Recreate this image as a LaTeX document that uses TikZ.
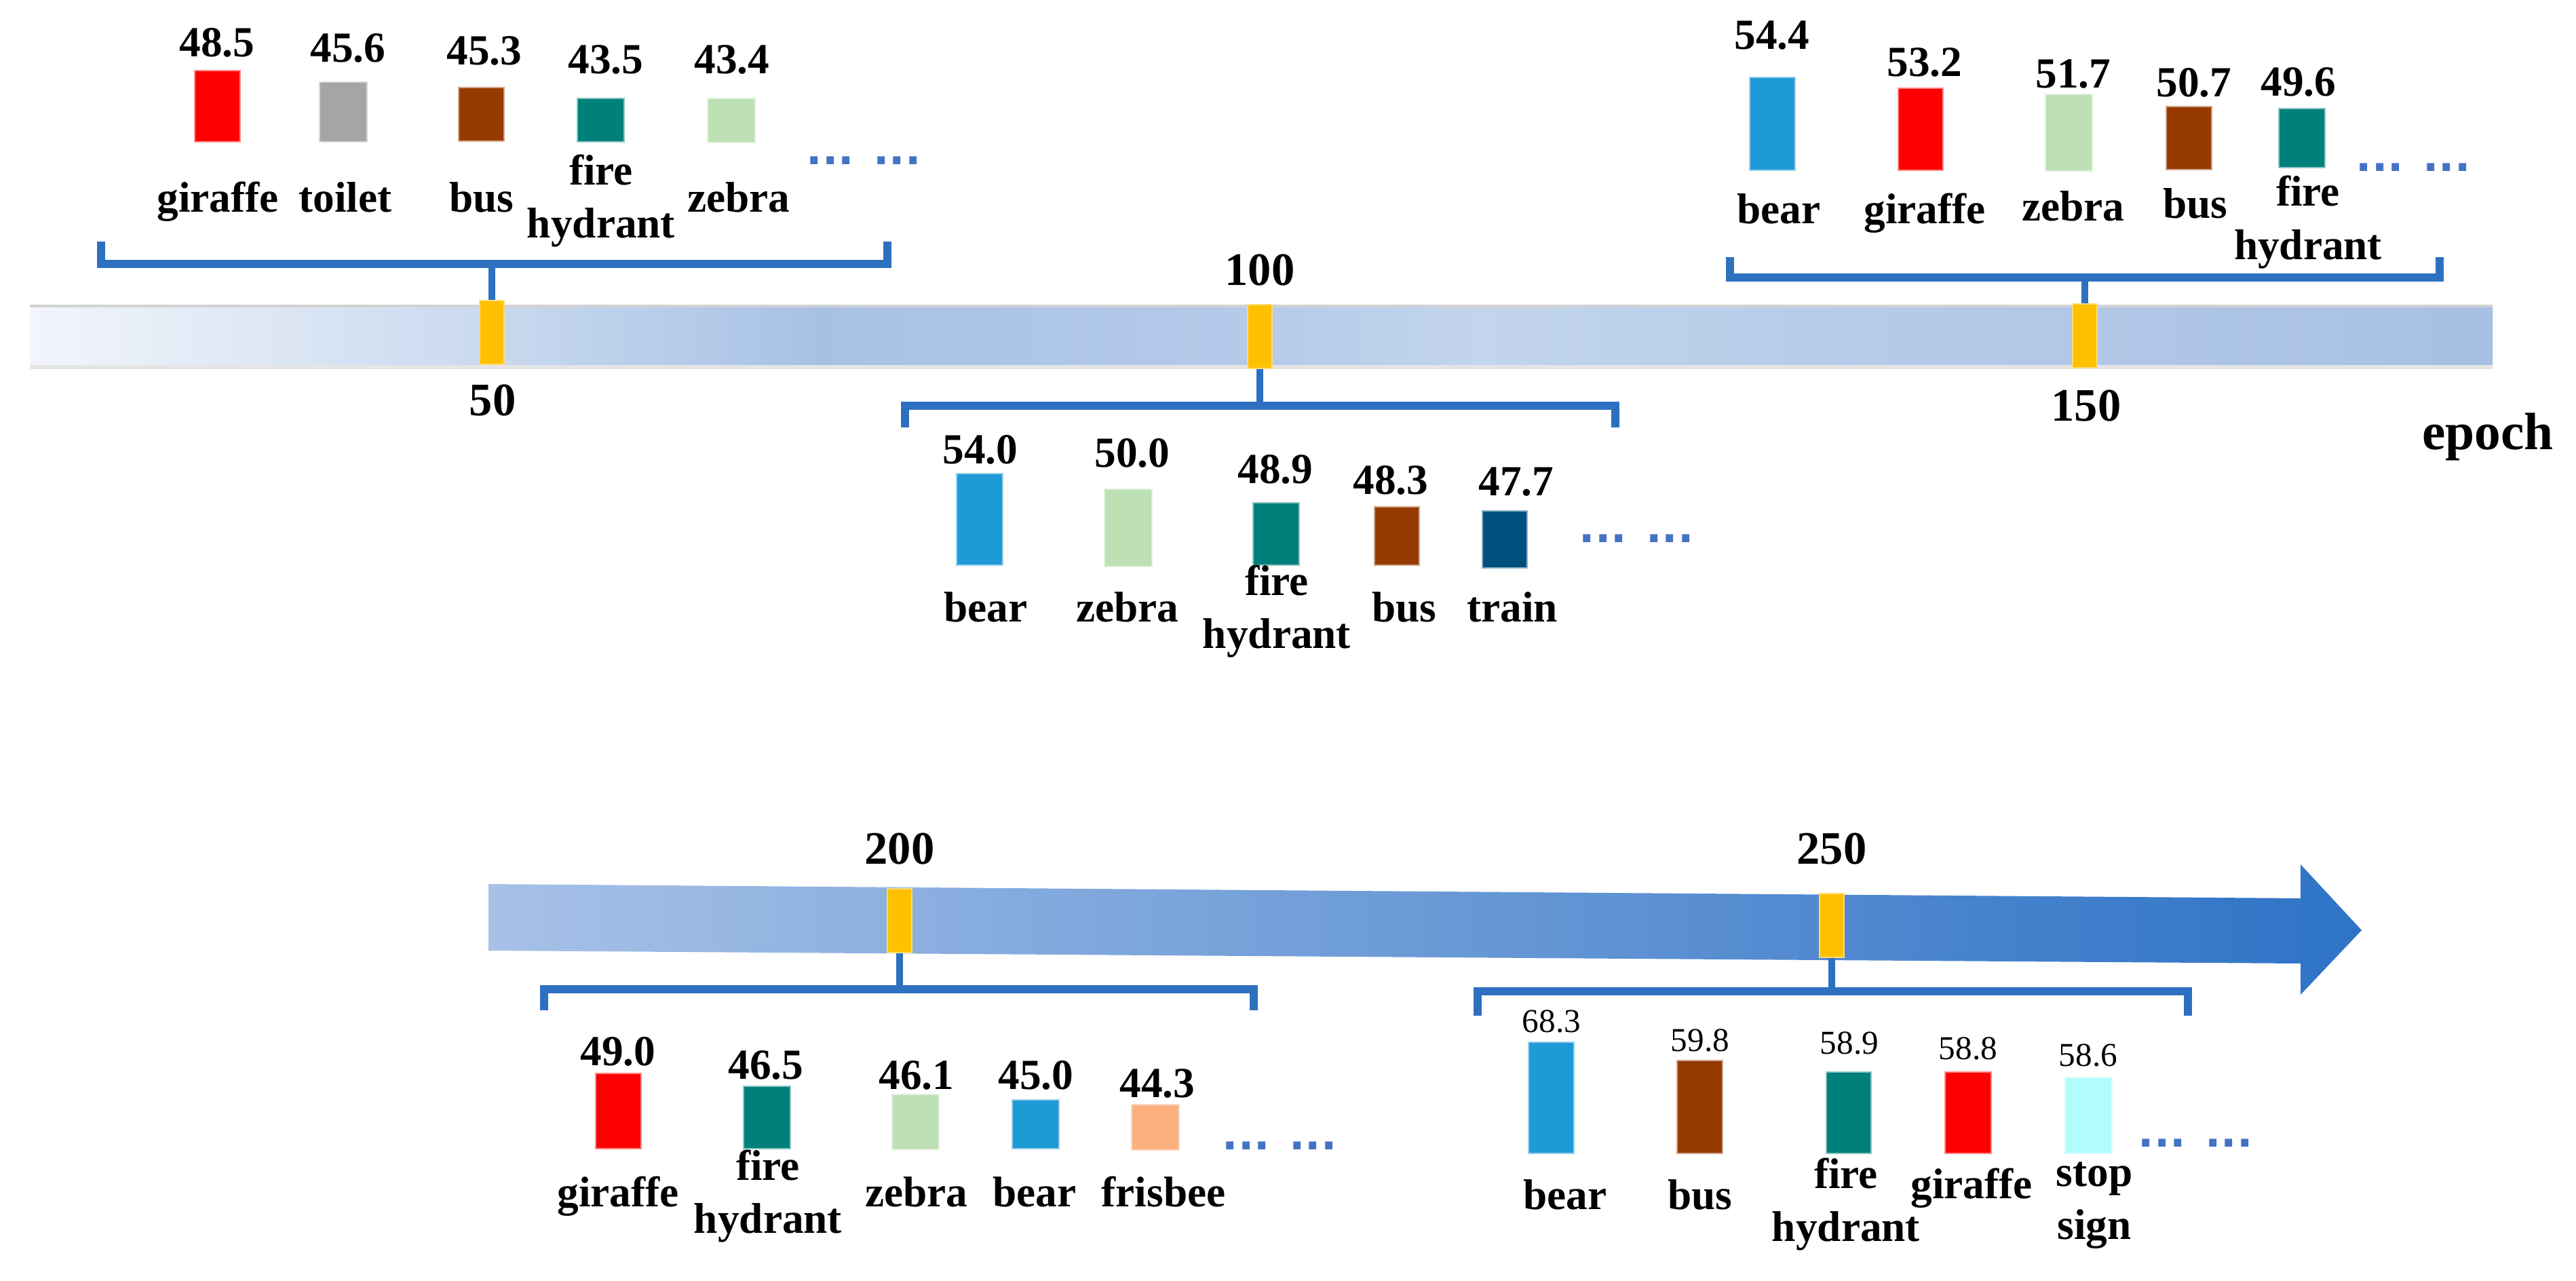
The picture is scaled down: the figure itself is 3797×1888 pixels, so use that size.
\documentclass[tikz,border=0pt]{standalone}
\usepackage{fontspec}
\setmainfont{Liberation Serif}
\newfontfamily\dotfont{DejaVu Sans}
\definecolor{gold}{HTML}{FFC000}
\definecolor{brkblue}{HTML}{2E70C0}
\definecolor{dotblue}{HTML}{4472C4}
\definecolor{cRed}{HTML}{FF0000}
\definecolor{cGray}{HTML}{A5A5A5}
\definecolor{cBrown}{HTML}{963A00}
\definecolor{cTeal}{HTML}{00807A}
\definecolor{cGreen}{HTML}{BDE0B4}
\definecolor{cBlue}{HTML}{1E9BD7}
\definecolor{cNavy}{HTML}{00507F}
\definecolor{cPeach}{HTML}{FBB07E}
\definecolor{cCyan}{HTML}{B3FCFC}
\definecolor{arrL}{HTML}{A7C1E7}
\definecolor{arrR}{HTML}{2E73C6}
\pgfdeclarehorizontalshading{topbar}{100bp}{rgb(0bp)=(0.949,0.961,0.984); rgb(25bp)=(0.949,0.961,0.984); rgb(34.4bp)=(0.788,0.851,0.937); rgb(41bp)=(0.655,0.757,0.898); rgb(49.75bp)=(0.706,0.792,0.914); rgb(54.45bp)=(0.765,0.835,0.929); rgb(61bp)=(0.718,0.8,0.914); rgb(75bp)=(0.655,0.753,0.89); rgb(100bp)=(0.655,0.753,0.89)}
\newcommand{\barrect}[5]{\path[fill=#1, draw=#1!45!white, line width=0.8pt] (#2,#4) rectangle (#3,#5);}
\newcommand{\twoline}[2]{\begin{tabular}[t]{@{}c@{}}#1\\#2\end{tabular}}
\begin{document}
\begin{tikzpicture}[x=0.01cm, y=-0.01cm,
  lab/.style={font=\bfseries\fontsize{18pt}{22.4pt}\selectfont, inner sep=0pt, anchor=base},
  num/.style={font=\bfseries\fontsize{18pt}{21pt}\selectfont, inner sep=0pt},
  numr/.style={font=\fontsize{14pt}{17pt}\selectfont, inner sep=0pt},
  ax/.style={font=\bfseries\fontsize{19.5pt}{23pt}\selectfont, inner sep=0pt},
  mk/.style={fill=gold, draw=gold!55!white, line width=0.6pt, minimum width=0.36cm, minimum height=0.94cm, inner sep=0pt},
  brk/.style={draw=brkblue, line width=3.4pt},
  stemline/.style={draw=brkblue, line width=2.8pt},
  dots/.style={font=\dotfont\bfseries\fontsize{17.5pt}{21pt}\selectfont, text=dotblue, inner sep=0pt, anchor=base west}]
\useasboundingbox (0,0) rectangle (3797,1888);

% ---------- top timeline bar ----------
\shade[shading=topbar] (44,450) rectangle (3674,543);
\draw[gray!35, line width=0.9pt] (44,451) -- (3674,451);
\draw[gray!20, line width=1.8pt] (44,541) -- (3674,541);

\node[mk] (m50) at (725,490) {};
\node[mk] (m100) at (1857,496) {};
\node[mk] (m150) at (3073,495) {};

\node[ax] (t50) at (726,590) {50};
\node[ax] (t100) at (1857,398) {100};
\node[ax] (t150) at (3075,598) {150};
\node[font=\bfseries\fontsize{22pt}{26pt}\selectfont, inner sep=0pt, anchor=base] (ep) at (3667,662) {epoch};

% ---------- bottom timeline arrow ----------
\shade[left color=arrL, right color=arrR] (720,1303) -- (3391,1324) -- (3391,1274) -- (3481,1371) -- (3391,1466) -- (3391,1420) -- (720,1401) -- cycle;
\node[mk] (m200) at (1326,1357) {};
\node[mk] (m250) at (2700,1364) {};
\node[ax] (t200) at (1326,1251) {200};
\node[ax] (t250) at (2700,1251) {250};

% ---------- brackets ----------
\coordinate (s50) at (725,389); \coordinate (b50l) at (149,356); \coordinate (b50r) at (1308,356);
\draw[brk] (b50l) |- (s50) -| (b50r);
\draw[stemline] (m50.north) -- (s50);

\coordinate (s150) at (3073,409); \coordinate (b150l) at (2550,379); \coordinate (b150r) at (3596,379);
\draw[brk] (b150l) |- (s150) -| (b150r);
\draw[stemline] (m150.north) -- (s150);

\coordinate (s100) at (1857,598); \coordinate (b100l) at (1334,630); \coordinate (b100r) at (2381,630);
\draw[brk] (b100l) |- (s100) -| (b100r);
\draw[stemline] (m100.south) -- (s100);

\coordinate (s200) at (1326,1458); \coordinate (b200l) at (802,1489); \coordinate (b200r) at (1848,1489);
\draw[brk] (b200l) |- (s200) -| (b200r);
\draw[stemline] (m200.south) -- (s200);

\coordinate (s250) at (2700,1461); \coordinate (b250l) at (2178,1497); \coordinate (b250r) at (3225,1497);
\draw[brk] (b250l) |- (s250) -| (b250r);
\draw[stemline] (m250.south) -- (s250);

% ---------- epoch 50 ----------
\barrect{cRed}{287}{354}{104}{209}
\barrect{cGray}{471}{541}{121}{209}
\barrect{cBrown}{676}{743}{129}{208}
\barrect{cTeal}{851}{920}{145}{209}
\barrect{cGreen}{1043}{1113}{145}{210}
\node[num] (n50a) at (320,63) {48.5};
\node[num] (n50b) at (513,71) {45.6};
\node[num] (n50c) at (714,75) {45.3};
\node[num] (n50d) at (893,88) {43.5};
\node[num] (n50e) at (1079,88) {43.4};
\node[lab] (l50a) at (321,312) {giraffe};
\node[lab] (l50b) at (509,312) {toilet};
\node[lab] (l50c) at (710,312) {bus};
\node[lab] (l50d) at (886,272) {\twoline{fire}{hydrant}};
\node[lab] (l50e) at (1089,312) {zebra};
\node[dots] (d50) at (1188,242) {... ...};

% ---------- epoch 150 ----------
\barrect{cBlue}{2579}{2646}{114}{251}
\barrect{cRed}{2798}{2864}{130}{251}
\barrect{cGreen}{3015}{3084}{139}{252}
\barrect{cBrown}{3193}{3260}{157}{250}
\barrect{cTeal}{3359}{3427}{160}{247}
\node[num] (n150a) at (2612,52) {54.4};
\node[num] (n150b) at (2837,92) {53.2};
\node[num] (n150c) at (3056,109) {51.7};
\node[num] (n150d) at (3234,122) {50.7};
\node[num] (n150e) at (3388,121) {49.6};
\node[lab] (l150a) at (2622,329) {bear};
\node[lab] (l150b) at (2837,329) {giraffe};
\node[lab] (l150c) at (3056,325) {zebra};
\node[lab] (l150d) at (3236,321) {bus};
\node[lab] (l150e) at (3402,304) {\twoline{fire}{hydrant}};
\node[dots] (d150) at (3472,252) {... ...};

% ---------- epoch 100 ----------
\barrect{cBlue}{1410}{1478}{698}{833}
\barrect{cGreen}{1628}{1698}{721}{835}
\barrect{cTeal}{1847}{1915}{741}{833}
\barrect{cBrown}{2026}{2092}{747}{833}
\barrect{cNavy}{2185}{2251}{753}{837}
\node[num] (n100a) at (1445,663) {54.0};
\node[num] (n100b) at (1669,668) {50.0};
\node[num] (n100c) at (1880,692) {48.9};
\node[num] (n100d) at (2050,708) {48.3};
\node[num] (n100e) at (2235,710) {47.7};
\node[lab] (l100a) at (1453,916) {bear};
\node[lab] (l100b) at (1662,916) {zebra};
\node[lab] (l100c) at (1882,877) {\twoline{fire}{hydrant}};
\node[lab] (l100d) at (2070,916) {bus};
\node[lab] (l100e) at (2229,916) {train};
\node[dots] (d100) at (2327,799) {... ...};

% ---------- epoch 200 ----------
\barrect{cRed}{878}{945}{1582}{1693}
\barrect{cTeal}{1096}{1165}{1601}{1693}
\barrect{cGreen}{1315}{1384}{1613}{1694}
\barrect{cBlue}{1492}{1561}{1621}{1693}
\barrect{cPeach}{1668}{1738}{1628}{1695}
\node[num] (n200a) at (911,1550) {49.0};
\node[num] (n200b) at (1129,1570) {46.5};
\node[num] (n200c) at (1351,1585) {46.1};
\node[num] (n200d) at (1527,1585) {45.0};
\node[num] (n200e) at (1706,1597) {44.3};
\node[lab] (l200a) at (911,1778) {giraffe};
\node[lab] (l200b) at (1132,1739) {\twoline{fire}{hydrant}};
\node[lab] (l200c) at (1351,1778) {zebra};
\node[lab] (l200d) at (1525,1778) {bear};
\node[lab] (l200e) at (1715,1778) {frisbee};
\node[dots] (d200) at (1801,1694) {... ...};

% ---------- epoch 250 ----------
\barrect{cBlue}{2253}{2320}{1536}{1700}
\barrect{cBrown}{2472}{2539}{1563}{1700}
\barrect{cTeal}{2692}{2758}{1580}{1700}
\barrect{cRed}{2867}{2935}{1580}{1700}
\barrect{cCyan}{3044}{3113}{1588}{1700}
\node[numr] (n250a) at (2287,1505) {68.3};
\node[numr] (n250b) at (2506,1533) {59.8};
\node[numr] (n250c) at (2726,1537) {58.9};
\node[numr] (n250d) at (2901,1545) {58.8};
\node[numr] (n250e) at (3078,1555) {58.6};
\node[lab] (l250a) at (2307,1782) {bear};
\node[lab] (l250b) at (2506,1782) {bus};
\node[lab] (l250c) at (2721,1751) {\twoline{fire}{hydrant}};
\node[lab] (l250d) at (2906,1766) {giraffe};
\node[lab] (l250e) at (3087,1748) {\twoline{stop}{sign}};
\node[dots] (d250) at (3151,1690) {... ...};
\end{tikzpicture}
\end{document}
